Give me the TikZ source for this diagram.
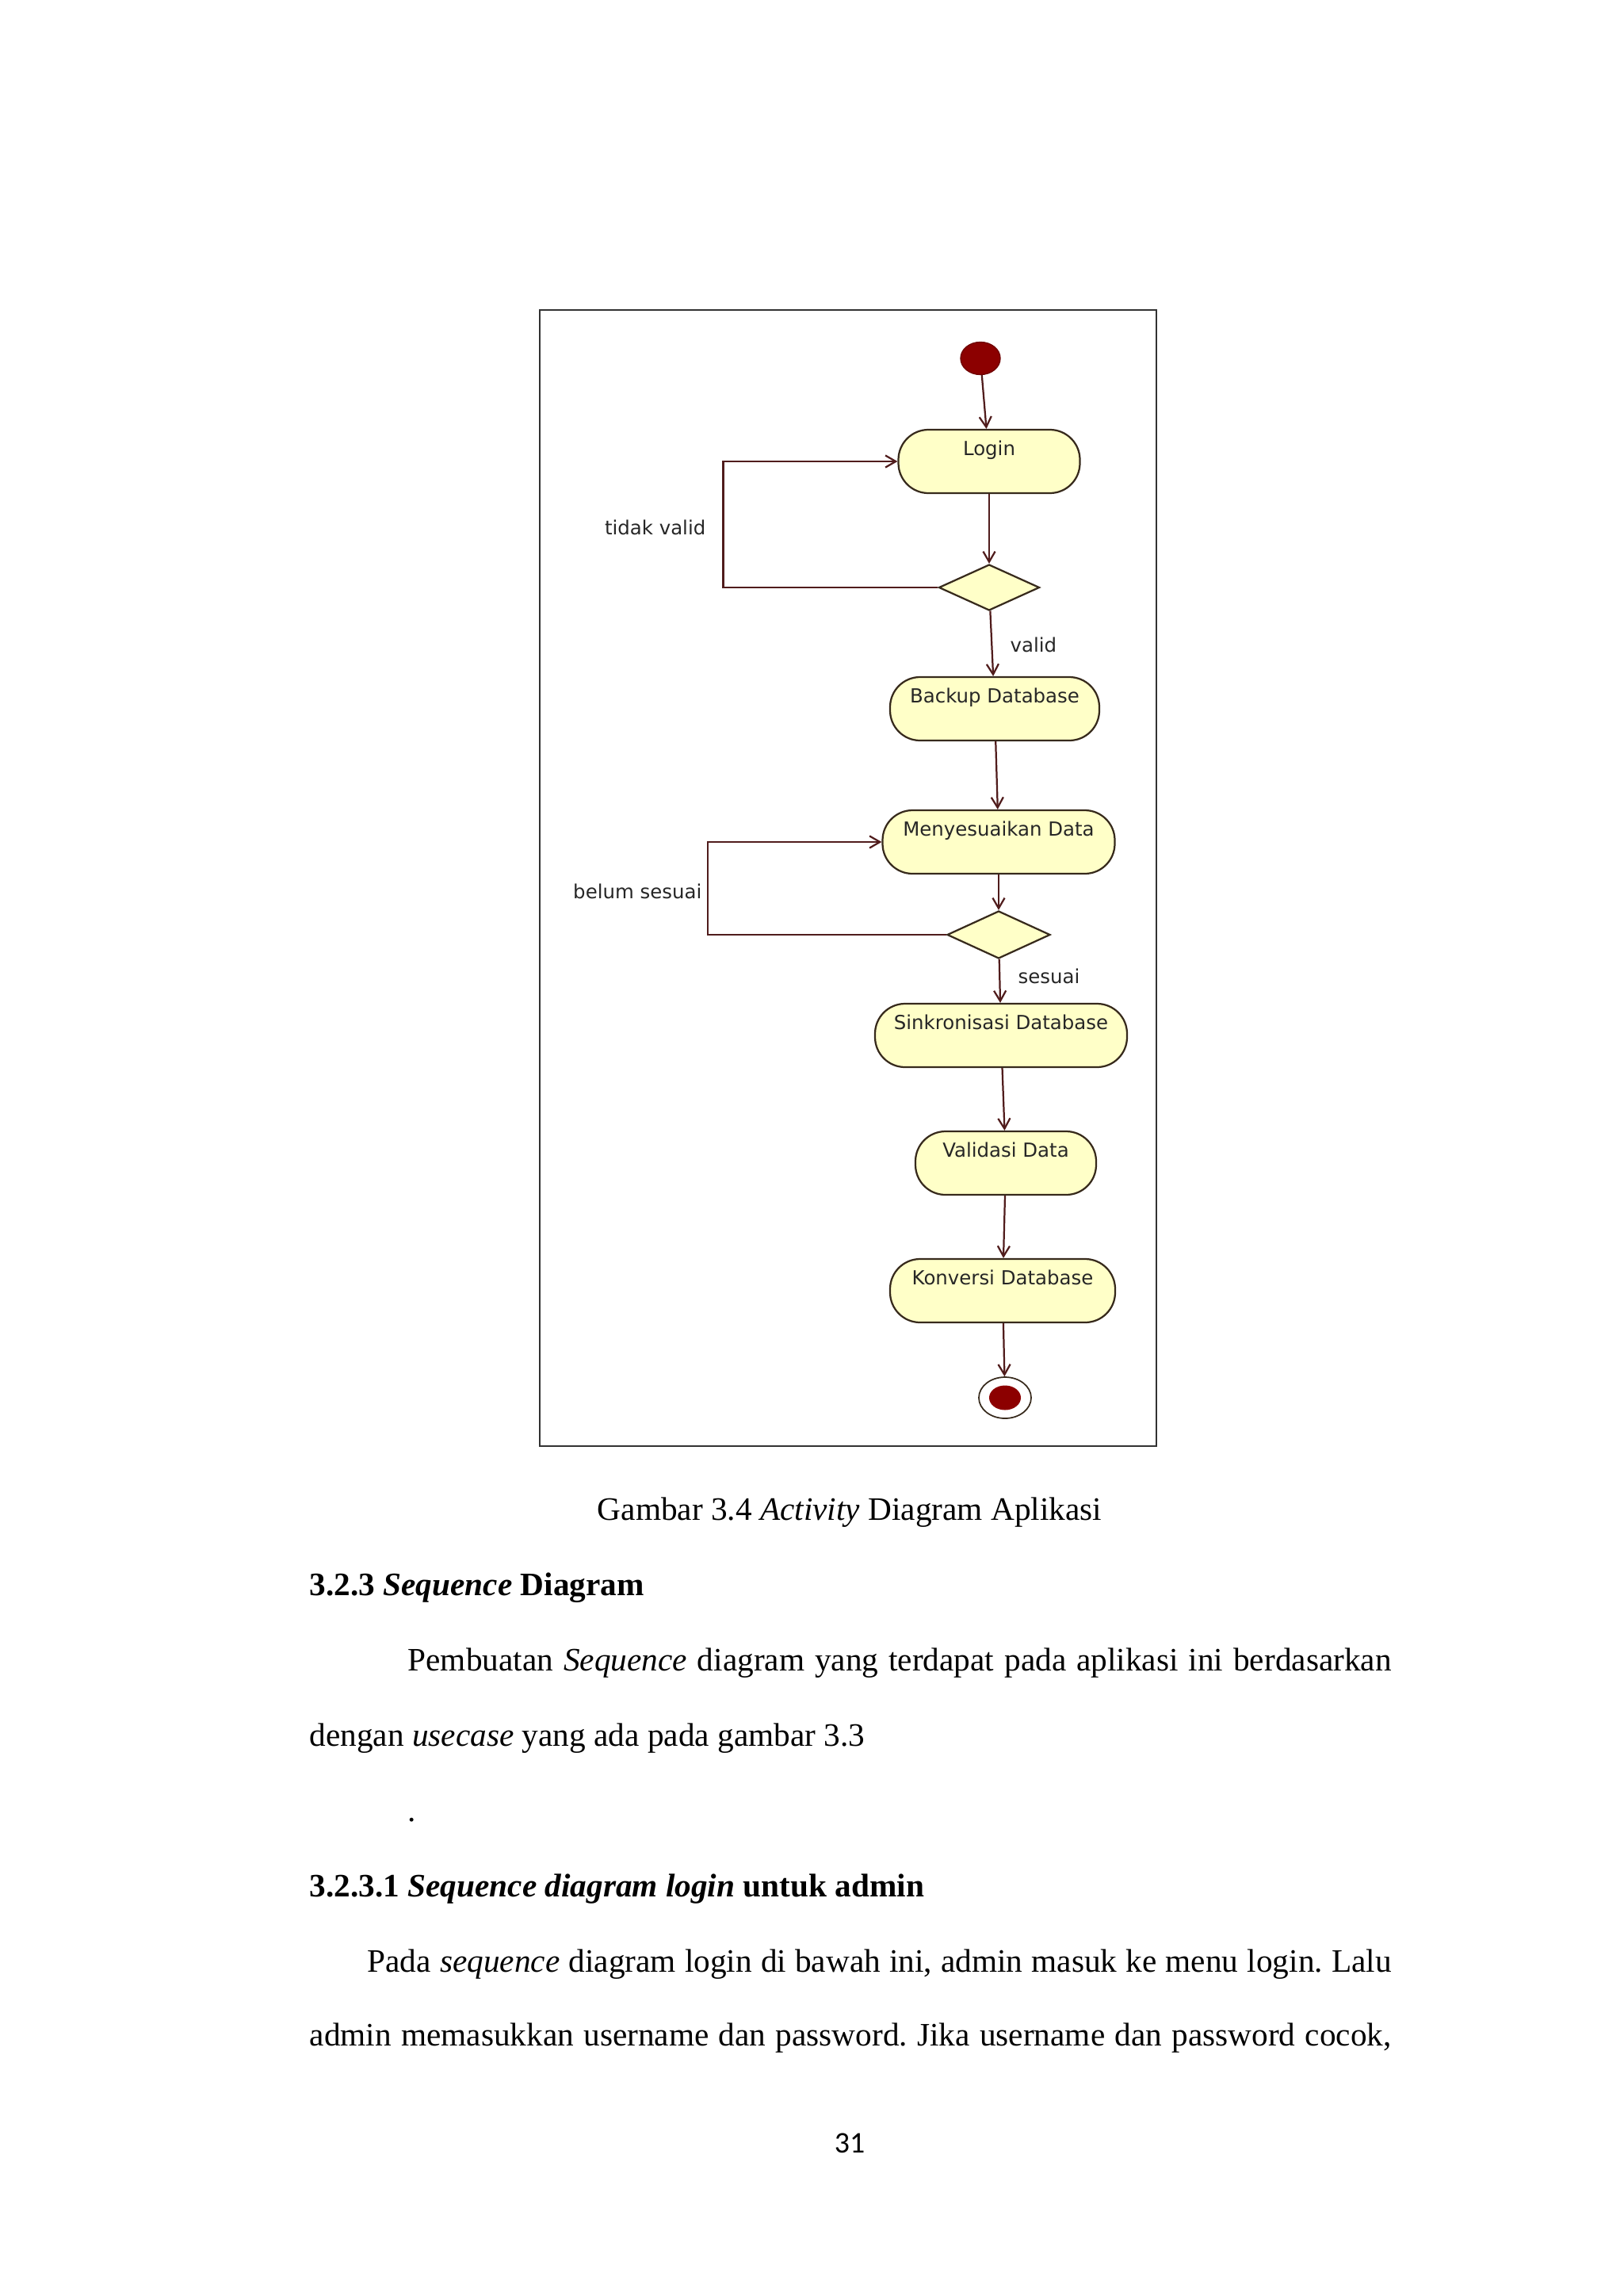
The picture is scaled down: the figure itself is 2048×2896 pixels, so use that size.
\documentclass[tikz,border=0pt]{standalone}
\usepackage{fontspec}
\setmainfont{Liberation Serif}
\newfontfamily\diagfont{DejaVu Sans}
\newfontfamily\pagefont{Carlito}
\usetikzlibrary{shapes.geometric,arrows.meta}
\newlength\pxu \setlength\pxu{0.290662pt}
\definecolor{actfill}{RGB}{255,255,200}
\definecolor{actline}{RGB}{55,42,28}
\definecolor{flowline}{RGB}{80,28,28}
\definecolor{dotred}{RGB}{140,0,0}
\definecolor{frameline}{RGB}{50,50,50}
\frenchspacing
\begin{document}
\begin{tikzpicture}[x=0.290662pt,y=-0.290662pt,
  act/.style={draw=actline, fill=actfill, line width=0.65pt, rounded corners=11pt,
    inner xsep=0pt, inner ysep=0pt, text height=32\pxu, text depth=48\pxu,
    font=\diagfont\fontsize{7.1}{8.6}\selectfont, text=black!85},
  dec/.style={diamond, draw=actline, fill=actfill, line width=0.65pt, inner sep=0pt},
  flow/.style={draw=flowline, line width=0.65pt, -{Straight Barb[length=3.8pt,width=4.4pt]}},
  lbl/.style={font=\diagfont\fontsize{7.1}{8.6}\selectfont, text=black!85, inner sep=0pt},
  body/.style={font=\fontsize{12}{14}\selectfont, inner sep=0pt, anchor=base west}]

\useasboundingbox (0,0) rectangle (2048,2896);
\fill[white] (0,0) rectangle (2048,2896);

% figure frame
\draw[line width=0.75pt, draw=frameline] (681,391) rectangle (1459,1824);

% nodes
\node[ellipse, fill=dotred, draw=dotred!80!black, line width=0.4pt, inner sep=0pt,
      minimum width=50\pxu, minimum height=41\pxu] (start) at (1237,452) {};
\node[act, minimum width=229\pxu] (login) at (1248,582) {Login};
\node[dec, minimum width=127\pxu, minimum height=58\pxu] (dec1) at (1248,741) {};
\node[act, minimum width=264\pxu] (backup) at (1255,894) {Backup Database};
\node[act, minimum width=293\pxu] (menyes) at (1260,1062) {Menyesuaikan Data};
\node[dec, minimum width=130\pxu, minimum height=60\pxu] (dec2) at (1260,1179) {};
\node[act, minimum width=318\pxu] (sinkron) at (1263,1306) {Sinkronisasi Database};
\node[act, minimum width=228\pxu] (validasi) at (1269,1467) {Validasi Data};
\node[act, minimum width=284\pxu] (konversi) at (1265,1628) {Konversi Database};
\node[ellipse, draw=actline, fill=white, line width=0.5pt, inner sep=0pt,
      minimum width=66\pxu, minimum height=52\pxu] (endo) at (1268,1763) {};
\node[ellipse, fill=dotred, inner sep=0pt,
      minimum width=40\pxu, minimum height=31\pxu] (endi) at (1268,1763) {};

% connectors
\draw[flow] (start) -- (login);
\draw[flow] (login) -- (dec1);
\draw[flow] (dec1) -- (backup);
\draw[flow] (dec1.west) -- ++(-271,0) |- (login.west);
\draw[flow] (backup) -- (menyes);
\draw[flow] (menyes) -- (dec2);
\draw[flow] (dec2) -- (sinkron);
\draw[flow] (dec2.west) -- ++(-301,0) |- (menyes.west);
\draw[flow] (sinkron) -- (validasi);
\draw[flow] (validasi) -- (konversi);
\draw[flow] (konversi) -- (endo);

% labels
\node[lbl, anchor=east] (ltv) at (891,665) {tidak valid};
\node[lbl, anchor=west] (lv) at (1274,813) {valid};
\node[lbl, anchor=east] (lbs) at (886,1124) {belum sesuai};
\node[lbl, anchor=west] (ls) at (1284,1231) {sesuai};

% page text
\node[font=\fontsize{12}{14}\selectfont, inner sep=0pt, anchor=base] (cap) at (1072,1917)
  {Gambar 3.4 \textit{Activity} Diagram Aplikasi};
\node[body] (h1) at (390,2012) {\textbf{3.2.3 \textit{Sequence} Diagram}};
\node[body] (p1) at (514,2107)
  {\makebox[360.71pt][s]{Pembuatan \textit{Sequence} diagram yang terdapat pada aplikasi ini berdasarkan}};
\node[body] (p2) at (390,2202) {dengan \textit{usecase} yang ada pada gambar 3.3};
\node[body] (p3) at (514,2297) {.};
\node[body] (h2) at (390,2392) {\textbf{3.2.3.1 \textit{Sequence diagram login} untuk admin}};
\node[body] (p4) at (463,2487)
  {\makebox[375.54pt][s]{Pada \textit{sequence} diagram login di bawah ini, admin masuk ke menu login. Lalu}};
\node[body] (p5) at (390,2580)
  {\makebox[396.75pt][s]{admin memasukkan username dan password. Jika username dan password cocok,}};
\node[font=\pagefont\fontsize{11}{13}\selectfont, inner sep=0pt, anchor=base] (pg) at (1072,2715) {31};
\end{tikzpicture}
\end{document}
